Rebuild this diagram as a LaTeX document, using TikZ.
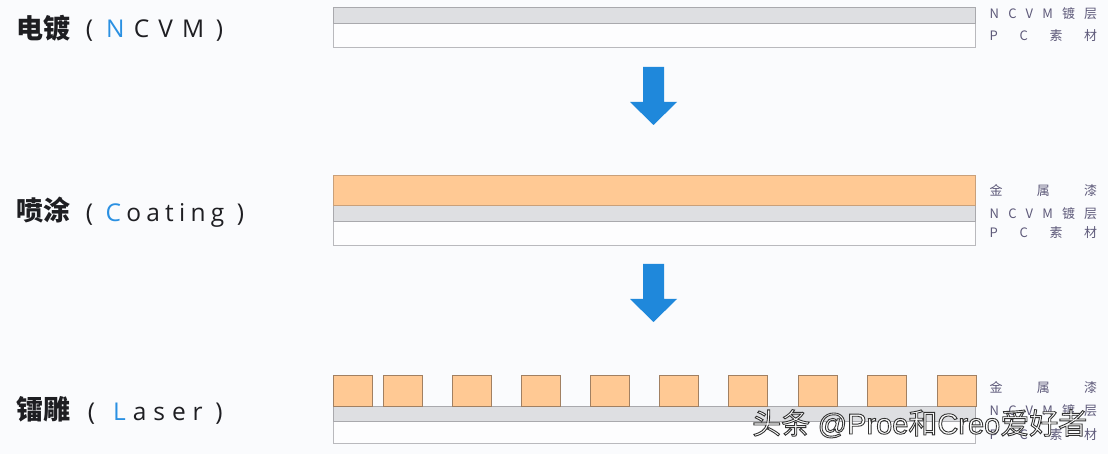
\documentclass[tikz,border=0pt]{standalone}
\usepackage{fontspec}
\setmainfont{Open Sans}
\newfontfamily\cjk{Noto Sans CJK SC}
\newfontfamily\wmlat{Liberation Sans}
\definecolor{bg}{HTML}{FAFBFD}
\definecolor{labelc}{HTML}{1E1E22}
\definecolor{accent}{HTML}{2A90E2}
\definecolor{sidec}{HTML}{5E5A7A}
\definecolor{orangefill}{HTML}{FFC994}
\definecolor{orangeline}{HTML}{C9A07A}
\definecolor{grayfill}{HTML}{DEDFE2}
\definecolor{grayline}{HTML}{A9A9AD}
\definecolor{whitefill}{HTML}{FDFDFE}
\definecolor{whiteline}{HTML}{B9B9BD}
\definecolor{arrowblue}{HTML}{1F88DB}
\newcommand\sidelabel[1]{\makebox[107.5pt][s]{#1}}
\newcommand\wmstr{{\cjk 头条} {\wmlat @Proe}{\cjk 和}{\wmlat Creo}{\cjk 爱好者}}
% white text with a dark outline (fill + stroke text render mode)
\newcommand\outlined[1]{\special{pdf:literal direct 2 Tr 0.9 w 0.2 G 1 g}#1\special{pdf:literal direct 0 Tr 1 w}}
\begin{document}
\begin{tikzpicture}[x=1pt,y=-1pt,
  layer/.style={inner sep=0pt, outer sep=0pt, anchor=north west, minimum width=642pt, line width=0.8pt},
  pclayer/.style={layer, fill=whitefill, draw=whiteline, minimum height=#1},
  ncvmlayer/.style={layer, fill=grayfill, draw=grayline, minimum height=#1},
  paintlayer/.style={layer, fill=orangefill, draw=orangeline, minimum height=#1},
  paintblock/.style={inner sep=0pt, outer sep=0pt, anchor=north west, minimum width=39pt, minimum height=31pt, fill=orangefill, draw=orangeline!80!black, line width=0.7pt},
  cn/.style={inner sep=0pt, anchor=base west, text=labelc, font=\cjk\bfseries\fontsize{27}{30}\selectfont},
  en/.style={inner sep=0pt, anchor=base west, text=labelc, font=\fontsize{24.5}{28}\selectfont},
  paren/.style={inner sep=0pt, anchor=base, text=labelc, font=\fontsize{24.5}{28}\selectfont},
  sidetext/.style={inner sep=0pt, anchor=base west, text=sidec, font=\cjk\fontsize{13}{15}\selectfont},
  wm/.style={inner sep=0pt, anchor=base west, text=white, font=\fontsize{29}{32}\selectfont},
  downarrow/.pic={\fill[arrowblue] (-10.5,0) -- (10.5,0) -- (10.5,35) -- (23.5,35) -- (0,58) -- (-23.5,35) -- (-10.5,35) -- cycle;}
]
\fill[bg] (0,0) rectangle (1108,454);
\useasboundingbox (0,0) rectangle (1108,454);

% ---------- stage 1: NCVM ----------
\node[pclayer=24pt] (pc1) at (333,23) {};
\node[ncvmlayer=16pt] (nc1) at (333,7) {};
\node[cn] (t1c) at (16,39) {电镀};
\node[paren] (t1o) at (89.5,37.5) {(};
\node[en] (t1w) at (106,37.5) {\makebox[98pt][s]{\textcolor{accent}{N}\hfill C\hfill V\hfill M}};
\node[paren] (t1e) at (219.5,37.5) {)};
\node[sidetext] (s1a) at (989.5,19) {\sidelabel{N\hfill C\hfill V\hfill M\hfill 镀\hfill 层}};
\node[sidetext] (s1b) at (989.5,41) {\sidelabel{P\hfill C\hfill 素\hfill 材}};

\pic at (653.5,67) {downarrow};

% ---------- stage 2: Coating ----------
\node[pclayer=24pt] (pc2) at (333,221) {};
\node[ncvmlayer=16pt] (nc2) at (333,205) {};
\node[paintlayer=30pt] (pt2) at (333,175) {};
\node[cn] (t2c) at (16,220.5) {喷涂};
\node[paren] (t2o) at (89.5,221.5) {(};
\node[en] (t2w) at (105.5,221.5) {\makebox[118.5pt][s]{\textcolor{accent}{C}\hfill o\hfill a\hfill t\hfill i\hfill n\hfill g}};
\node[paren] (t2e) at (240.5,221.5) {)};
\node[sidetext] (s2a) at (989.5,196) {\sidelabel{金\hfill 属\hfill 漆}};
\node[sidetext] (s2b) at (989.5,219) {\sidelabel{N\hfill C\hfill V\hfill M\hfill 镀\hfill 层}};
\node[sidetext] (s2c) at (989.5,238) {\sidelabel{P\hfill C\hfill 素\hfill 材}};

\pic at (653.5,264) {downarrow};

% ---------- stage 3: Laser ----------
\node[pclayer=22pt] (pc3) at (333,421) {};
\node[ncvmlayer=15pt] (nc3) at (333,406) {};
\foreach \bx [count=\i] in {333,383,452,521,590,659,728,798,867,937}
  \node[paintblock] (blk\i) at (\bx,375) {};
\node[cn] (t3c) at (16,419) {镭雕};
\node[paren] (t3o) at (91.5,420) {(};
\node[en] (t3w) at (113,420) {\makebox[89.5pt][s]{\textcolor{accent}{L}\hfill a\hfill s\hfill e\hfill r}};
\node[paren] (t3e) at (219,420) {)};
\node[sidetext] (s3a) at (989.5,392.5) {\sidelabel{金\hfill 属\hfill 漆}};
\node[sidetext] (s3b) at (989.5,415) {\sidelabel{N\hfill C\hfill V\hfill M\hfill 镀\hfill 层}};
\node[sidetext] (s3c) at (989.5,439) {\sidelabel{P\hfill C\hfill 素\hfill 材}};

% ---------- watermark ----------
\node[wm] (wm) at (752,434) {\outlined{\wmstr}};
\end{tikzpicture}
\end{document}
